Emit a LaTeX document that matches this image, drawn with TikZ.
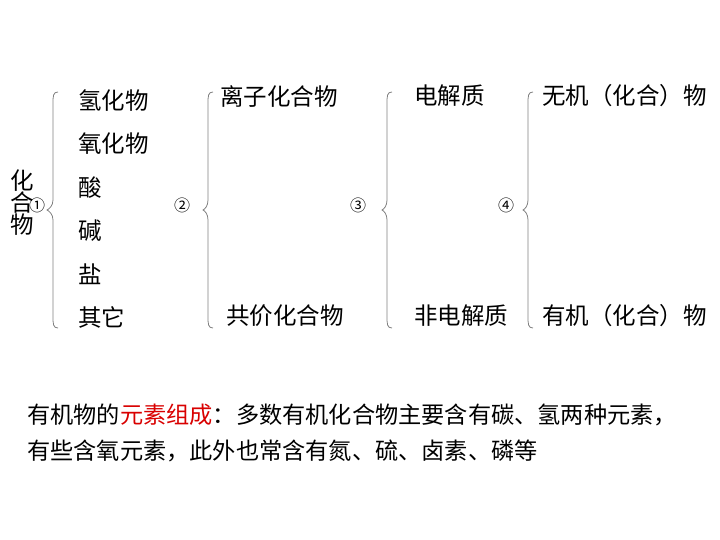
\documentclass[tikz,border=0pt]{standalone}
\usepackage{fontspec}
\setmainfont{Noto Sans CJK SC}[BoldFont={Noto Sans CJK SC Bold}]
\begin{document}
\begin{tikzpicture}[x=1pt,y=-1pt,
 t/.style={anchor=west,inner sep=0pt,font=\fontsize{23.5}{24}\selectfont},
 num/.style={inner sep=0pt,font=\fontsize{16}{16}\selectfont},
 br/.style={draw=gray,line width=0.8pt}]
\useasboundingbox[fill=white] (0,0) rectangle (720,540);
\newcommand{\mybrace}[4]{%
 \pgfmathsetmacro{\m}{(#3+#4)/2}
 \draw[br] (#1,#3) .. controls (#1-5,#3) and (#1-5,#3+4) .. (#1-5,#3+12) -- (#1-5,\m-10) .. controls (#1-5,\m-4) and (#2+2,\m-1) .. (#2,\m) .. controls (#2+2,\m+1) and (#1-5,\m+4) .. (#1-5,\m+10) -- (#1-5,#4-12) .. controls (#1-5,#4-4) and (#1-5,#4) .. (#1,#4);}
\node[font=\fontsize{23.5}{22}\selectfont,align=center,inner sep=0pt] (hhw) at (22,203) {化\\合\\物};
\node[num] (n1) at (37,205) {①};
\mybrace{58}{47}{92}{328}
\node[t] (a1) at (78,101) {氢化物};
\node[t] (a2) at (78,144) {氧化物};
\node[t] (a3) at (78,188) {酸};
\node[t] (a4) at (78,231) {碱};
\node[t] (a5) at (78,274) {盐};
\node[t] (a6) at (78,317) {其它};
\node[num] (n2) at (182,205) {②};
\mybrace{213}{203}{92}{328}
\node[t] (b1) at (220,96) {离子化合物};
\node[t] (b2) at (226,316) {共价化合物};
\node[num] (n3) at (358,205) {③};
\mybrace{392}{382}{92}{328}
\node[t] (c1) at (414,96) {电解质};
\node[t] (c2) at (414,316) {非电解质};
\node[num] (n4) at (506,205) {④};
\mybrace{533}{523}{92}{328}
\node[t] (d1) at (542,96) {无机（化合）物};
\node[t] (d2) at (542,316) {有机（化合）物};
\node[anchor=west,inner sep=0pt,align=left,font=\fontsize{23.2}{36}\selectfont] (txt) at (27,433) {有机物的\textcolor{red!85!black}{元素组成}：多数有机化合物主要含有碳、氢两种元素，\\有些含氧元素，此外也常含有氮、硫、卤素、磷等};
\end{tikzpicture}
\end{document}
